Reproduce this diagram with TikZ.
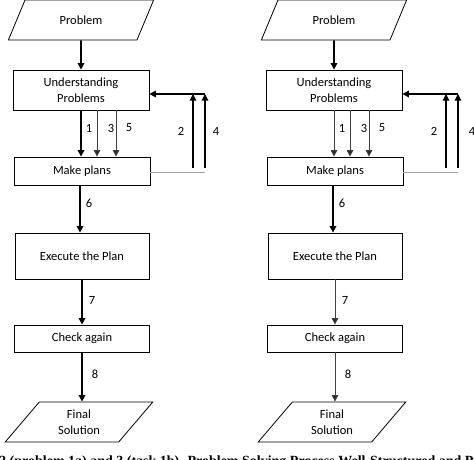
\documentclass[tikz,border=0pt]{standalone}
\usepackage{fontspec}
\setmainfont{Carlito}
\newfontfamily\capfont{Liberation Serif}
\usetikzlibrary{shapes.geometric,arrows.meta}
\begin{document}
\begin{tikzpicture}[x=1pt,y=-1pt,
  every node/.style={font=\fontsize{12.5}{16}\selectfont},
  procbox/.style={draw,line width=0.8pt,inner sep=0pt,align=center},
  iobox/.style={draw,trapezium,trapezium left angle=54,trapezium right angle=126,
    trapezium stretches=true,line width=0.8pt,inner sep=0pt,align=center},
  thickarr/.style={line width=1.6pt,-{Triangle[length=6.5pt,width=6.5pt]}},
  midarr/.style={line width=1.1pt,-{Triangle[length=6.5pt,width=6.5pt]}},
  thinarr/.style={line width=1pt,draw=black!75,-{Triangle[length=6.5pt,width=6.5pt,fill=black!85]}},
  guide/.style={draw=black!35,line width=0.6pt},
  lbl/.style={inner sep=0pt},
]
\useasboundingbox (0,0) rectangle (474,459);
\foreach \s/\ox in {L/0,R/253}{
\begin{scope}[xshift=\ox pt]
  \node[iobox,minimum width=146pt,minimum height=40pt] (prob\s) at (81,20) {Problem};
  \node[procbox,minimum width=136pt,minimum height=40pt] (up\s) at (81,90) {Understanding\\Problems};
  \node[procbox,minimum width=136pt,minimum height=28pt] (mp\s) at (82,171) {Make plans};
  \node[procbox,minimum width=134pt,minimum height=46pt] (ex\s) at (82,256) {Execute the Plan};
  \node[procbox,minimum width=135pt,minimum height=27pt] (ck\s) at (82,338.5) {Check again};
  \node[iobox,minimum width=148pt,minimum height=40pt] (fin\s) at (79,422) {Final\\Solution};
  % main flow
  \draw[thickarr] (prob\s) -- (up\s.north);
  \draw[thinarr] ([xshift=16pt]up\s.south) -- ([xshift=16pt]up\s.south |- mp\s.north);
  \draw[thinarr] ([xshift=35pt]up\s.south) -- ([xshift=35pt]up\s.south |- mp\s.north);
  \draw[thickarr] ([xshift=-2pt]mp\s.south) -- ([xshift=-2pt]mp\s.south |- ex\s.north);
  % feedback
  \coordinate (fe\s) at (205,172);
  \coordinate (a2b\s) at (193,168);
  \coordinate (a2t\s) at (193,94);
  \coordinate (a4b\s) at (205,168);
  \coordinate (a4t\s) at (205,94);
  \draw[guide] (mp\s.east |- fe\s) -- (fe\s);
  \draw[midarr] (a2b\s) -- (a2t\s);
  \draw[midarr] (a4b\s) -- (a4t\s);
  \draw[thickarr] (a4t\s) -- (a4t\s -| up\s.east);
  % labels
  \node[lbl] (l1\s) at (89,128) {1};
  \node[lbl] (l3\s) at (111,128) {3};
  \node[lbl] (l5\s) at (129,128) {5};
  \node[lbl] (l2\s) at (181,131) {2};
  \node[lbl] (l6\s) at (89,203) {6};
  \node[lbl] (l7\s) at (92,300) {7};
  \node[lbl] (l8\s) at (95,374) {8};
\end{scope}
}
% arrows whose weight differs between the two charts
\draw[thickarr] (upL.south) -- (upL.south |- mpL.north);
\draw[thickarr] (exL.south) -- (exL.south |- ckL.north);
\draw[thickarr] (ckL.south) -- (ckL.south |- finL.north);
\draw[thinarr] (upR.south) -- (upR.south |- mpR.north);
\draw[thinarr] (exR.south) -- (exR.south |- ckR.north);
\draw[thinarr] (ckR.south) -- (ckR.south |- finR.north);
\node[lbl] (l4L) at (216,131) {4};
\node[lbl] (l4R) at (472,131) {4};
\node[anchor=base west,inner sep=0pt,font=\capfont\bfseries\fontsize{14}{16}\selectfont] (cap) at (-1,465.5)
  {2 (problem 1a) and 3 (task 1b). Problem Solving Process Well-Structured and Problem};
\end{tikzpicture}
\end{document}
